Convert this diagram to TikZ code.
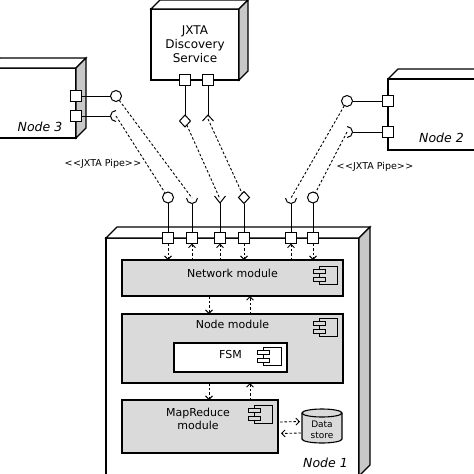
\documentclass[tikz,border=0pt]{standalone}
\usepackage{fontspec}
\setmainfont{DejaVu Sans}
\usetikzlibrary{arrows.meta,shapes.geometric}
\definecolor{modfill}{RGB}{218,218,218}
\definecolor{sidefill}{RGB}{200,200,200}
\tikzset{
  box/.style={draw, rectangle, inner sep=0pt, outer sep=0pt},
  port/.style={draw, fill=white, rectangle, minimum size=11pt, inner sep=0pt, outer sep=0pt, line width=1pt},
  lolli/.style={draw, fill=white, circle, minimum size=11pt, inner sep=0pt, outer sep=0pt, line width=1pt},
  dia/.style={draw, fill=white, diamond, minimum width=11pt, minimum height=12pt, inner sep=0pt, outer sep=0pt, line width=1pt},
  pipe/.style={dash pattern=on 2.5pt off 2pt, line width=0.9pt},
  flow/.style={dash pattern=on 2.5pt off 2pt, line width=0.9pt, -{Straight Barb[length=3.5pt,width=7pt]}},
  mod/.style={draw, fill=modfill, rectangle, inner sep=0pt, outer sep=0pt},
  lbl/.style={font=\fontsize{11}{13}\selectfont, inner sep=0pt},
  nlbl/.style={font=\fontsize{12.5}{14}\selectfont\itshape, inner sep=0pt},
  plbl/.style={font=\fontsize{9.5}{11}\selectfont, inner sep=0pt},
  compicon/.pic={
    \draw[line width=0.9pt, fill=#1] (-6,-9) rectangle (12,9);
    \draw[line width=0.9pt, fill=#1] (-12,-6) rectangle (0,-2);
    \draw[line width=0.9pt, fill=#1] (-12,2) rectangle (0,6);
  }
}
\newcommand{\pipetxt}{\textless\kern0.6pt\textless JXTA Pipe\textgreater\kern0.6pt\textgreater}
\begin{document}
\begin{tikzpicture}[x=1pt,y=-1pt,line width=1.1pt]
\useasboundingbox (0,0) rectangle (474,474);
\clip (0,0) rectangle (474,474);

% ---------- Node 3 ----------
\node[box, fill=white, minimum width=86, minimum height=70] (n3) at (33,103) {};
\draw[fill=white] (n3.north west) -- ++(10,-10) -- ++(86,0) -- (n3.north east) -- cycle;
\draw[fill=sidefill] (n3.north east) -- ++(10,-10) -- ++(0,70) -- (n3.south east) -- cycle;
\node[nlbl] (t3) at (40,127) {Node 3};

% ---------- JXTA Discovery Service ----------
\node[box, fill=white, minimum width=88, minimum height=71, align=center,
      font=\fontsize{12}{14}\selectfont] (jx) at (195,44.5) {JXTA\\Discovery\\Service};
\draw[fill=white] (jx.north west) -- ++(9,-9) -- ++(88,0) -- (jx.north east) -- cycle;
\draw[fill=sidefill] (jx.north east) -- ++(9,-9) -- ++(0,71) -- (jx.south east) -- cycle;

% ---------- Node 2 ----------
\node[box, fill=white, minimum width=96, minimum height=71] (n2) at (436,114.5) {};
\draw (n2.north west) -- ++(10,-10) -- ++(96,0);
\node[nlbl] (t2) at (441.5,138) {Node 2};

% ---------- Node 1 ----------
\node[box, fill=white, minimum width=253, minimum height=238] (n1) at (232.5,357) {};
\draw[fill=white] (n1.north west) -- ++(11,-11) -- ++(253,0) -- (n1.north east) -- cycle;
\draw[fill=sidefill] (n1.north east) -- ++(11,-11) -- ++(0,238) -- (n1.south east) -- cycle;
\node[nlbl] (t1) at (325.5,463) {Node 1};

% ---------- interface points ----------
\coordinate (s3) at (116,116);
\coordinate (vj) at (208,115);
\coordinate (vji) at (208,119);
\coordinate (s2) at (347,132);
\coordinate (s1b) at (192,198);
\coordinate (v1c) at (220,203);
\coordinate (v1i) at (220,199);
\coordinate (s1e) at (291,198);

% ---------- pipes ----------
\node[lolli] (l3) at (116,96) {};
\node[dia] (dj) at (185,121) {};
\node[lolli] (l2) at (347,101) {};
\node[lolli] (l1a) at (168,197.5) {};
\node[dia] (d1d) at (244,197.5) {};
\node[lolli] (l1f) at (313,197.5) {};

\draw[pipe] (l3) -- (s1b);
\draw[pipe] (s3) -- (l1a);
\draw[pipe] (dj) -- (v1i);
\draw[pipe] (vji) -- (d1d);
\draw[pipe] (l2) -- (s1e);
\draw[pipe] (s2) -- (l1f);

\node[plbl] (pl3) at (103,164) {\pipetxt};
\node[plbl] (pl2) at (375,167) {\pipetxt};

% ---------- ports ----------
\node[port] (p3a) at (76,96) {};
\node[port] (p3b) at (76,116) {};
\node[port] (pj1) at (185,80) {};
\node[port] (pj2) at (208,80) {};
\node[port] (p2a) at (388,101) {};
\node[port] (p2b) at (388,132) {};
\node[port] (p1a) at (168,238) {};
\node[port] (p1b) at (192,238) {};
\node[port] (p1c) at (220,238) {};
\node[port] (p1d) at (244,238) {};
\node[port] (p1e) at (291,238) {};
\node[port] (p1f) at (313,238) {};

% ---------- port to interface links ----------
\draw[line width=1pt] (p3a) -- (l3);
\draw[line width=1pt] (p3b) -- ([xshift=-5.5pt]s3);
\draw[line width=1pt] (s3) ++(0,5.5) arc[start angle=90,end angle=270,radius=5.5];

\draw[line width=1pt] (pj1) -- (dj);
\draw[line width=1pt] (pj2) -- (vj);
\draw[line width=1pt] (vj) ++(-5.5,6) -- (vj) -- ++(5.5,6);

\draw[line width=1pt] (p2a) -- (l2);
\draw[line width=1pt] (p2b) -- ([xshift=5.5pt]s2);
\draw[line width=1pt] (s2) ++(0,-5.5) arc[start angle=-90,end angle=90,radius=5.5];

\draw[line width=1pt] (p1a) -- (l1a);
\draw[line width=1pt] (p1b) -- ([yshift=-5.5pt]s1b);
\draw[line width=1pt] (s1b) ++(-5.5,0) arc[start angle=180,end angle=0,radius=5.5];
\draw[line width=1pt] (p1c) -- (v1c);
\draw[line width=1pt] (v1c) ++(-5.5,-7) -- (v1c) -- ++(5.5,-7);
\draw[line width=1pt] (p1d) -- (d1d);
\draw[line width=1pt] (p1e) -- ([yshift=-5.5pt]s1e);
\draw[line width=1pt] (s1e) ++(-5.5,0) arc[start angle=180,end angle=0,radius=5.5];
\draw[line width=1pt] (p1f) -- (l1f);

% ---------- modules ----------
\node[mod, minimum width=221, minimum height=36] (net) at (232.5,278) {};
\node[lbl] (tnet) at (232.5,273) {Network module};
\pic at (325,275) {compicon=modfill};

\node[mod, minimum width=221, minimum height=69] (nodem) at (232.5,348.5) {};
\node[lbl] (tnode) at (232.5,324) {Node module};
\pic at (325,327) {compicon=modfill};

\node[box, fill=white, minimum width=113, minimum height=29] (fsm) at (230.5,357.5) {};
\node[lbl] (tfsm) at (230.5,354) {FSM};
\pic at (269.5,356) {compicon=white};

\node[mod, minimum width=156, minimum height=53] (mr) at (200,426.5) {};
\node[lbl, align=center] (tmr) at (198,418.5) {MapReduce\\module};
\pic at (260.5,414) {compicon=modfill};

% data store
\draw[fill=modfill] (302,413) -- (302,439) arc[start angle=180,end angle=0,x radius=20,y radius=4]
  -- (342,413) arc[start angle=0,end angle=-180,x radius=20,y radius=4] -- cycle;
\draw (302,413) arc[start angle=180,end angle=0,x radius=20,y radius=4];
\node[inner sep=0pt, outer sep=0pt, minimum width=40, minimum height=34] (ds) at (322,426) {};
\node[plbl, font=\fontsize{9}{11}\selectfont, align=center] (tds) at (322,430) {Data\\store};

% ---------- internal flows ----------
\draw[flow] (p1a) -- (p1a |- net.north);
\draw[flow] (p1b |- net.north) -- (p1b);
\draw[flow] (p1c |- net.north) -- (p1c);
\draw[flow] (p1d) -- (p1d |- net.north);
\draw[flow] (p1e |- net.north) -- (p1e);
\draw[flow] (p1f) -- (p1f |- net.north);

\draw[flow] ([xshift=-23.5pt]net.south) -- ([xshift=-23.5pt]nodem.north);
\draw[flow] ([xshift=17.5pt]nodem.north) -- ([xshift=17.5pt]net.south);
\draw[flow] ([xshift=-23.5pt]nodem.south) -- ([xshift=9pt]mr.north);
\draw[flow] ([xshift=50pt]mr.north) -- ([xshift=17.5pt]nodem.south);

\draw[flow] ([xshift=2pt,yshift=4.5pt]mr.east) -- ([xshift=-2pt,yshift=4.5pt]ds.west);
\draw[flow] ([xshift=-1pt,yshift=-7pt]ds.west) -- ([xshift=3pt,yshift=-7pt]mr.east);
\end{tikzpicture}
\end{document}
